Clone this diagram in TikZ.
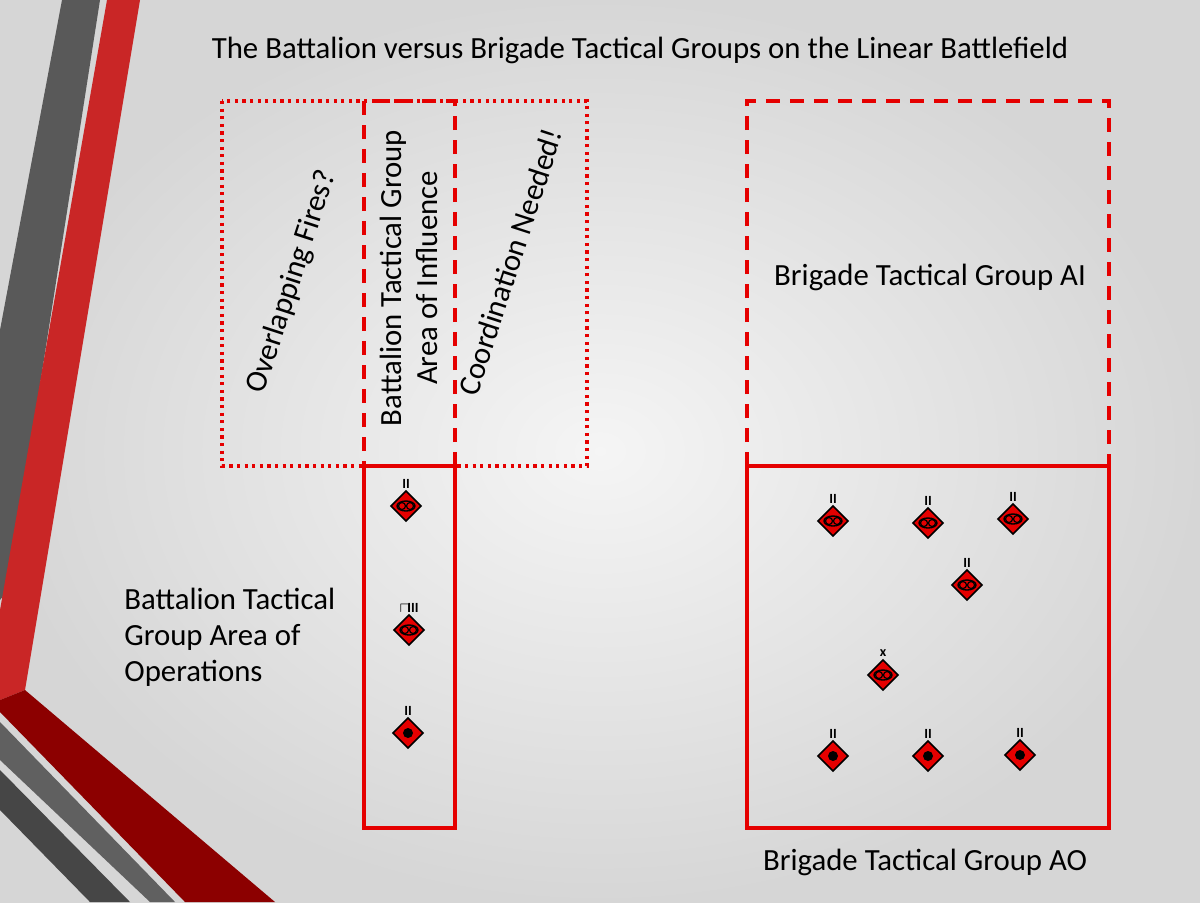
\documentclass[tikz,border=0pt]{standalone}
\usepackage{fontspec}
\setmainfont{Carlito}
\begin{document}
\begin{tikzpicture}[x=0.5pt,y=-0.5pt,
  lbl/.style={font=\fontsize{15.4}{18}\selectfont,inner sep=0},
  rbox/.style={draw=red!90!black,line width=1.6pt},
  dsh/.style={dash pattern=on 7pt off 5pt},
  dot/.style={dash pattern=on 1.6pt off 2.2pt},
  dia/.style={draw=black,fill=red!90!black,line width=0.8pt},
  ech/.style={font=\fontsize{7}{7}\selectfont\bfseries,inner sep=0}]
\useasboundingbox (0,0) rectangle (1200,902);
\shade[inner color=gray!8,outer color=gray!32] (0,0) rectangle (1200,902);
% stripes
\fill[gray!70!black] (62,0)--(100,0)--(8,590)--(0,600)--(0,330)--cycle;
\fill[red!75!black!85!white] (107,0)--(140,0)--(25,690)--(0,700)--(0,610)--cycle;
\fill[red!55!black] (0,700)--(25,690)--(275,902)--(185,902)--(0,712)--cycle;
\fill[gray!75!black] (0,722)--(175,902)--(150,902)--(0,760)--cycle;
\fill[gray!55!black] (0,770)--(130,902)--(90,902)--(0,810)--cycle;
% title
\node[lbl] (title) at (640,50) {The Battalion versus Brigade Tactical Groups on the Linear Battlefield};
% battalion boxes
\draw[rbox,dot] (222,101) rectangle (587,466);
\draw[rbox,dsh] (364,101) rectangle (455,466);
\draw[rbox] (364,466) rectangle (455,828);
\node[lbl,rotate=90,align=center] (bai) at (409,278) {Battalion Tactical Group\\Area of Influence};
\node[lbl,rotate=72] (ovl) at (292,282) {Overlapping Fires?};
\node[lbl,rotate=72] (coo) at (510,262) {Coordination Needed!};
\node[lbl,align=left,anchor=north west] (bao) at (124,588) {Battalion Tactical\\Group Area of\\Operations};
% brigade boxes
\draw[rbox,dsh] (747,466)--(747,101)--(1109,101)--(1109,466);
\draw[rbox] (747,466) rectangle (1109,828);
\node[lbl] (brai) at (930,277) {Brigade Tactical Group AI};
\node[lbl] (brao) at (925,862) {Brigade Tactical Group AO};
% symbols
\newcommand{\armr}[3]{%
  \draw[dia] (#1,#2-15)--(#1+15,#2)--(#1,#2+15)--(#1-15,#2)--cycle;
  \draw[line width=0.7pt] (#1,#2) ellipse (9 and 5);
  \draw[line width=0.6pt] (#1-4,#2) circle (3.5) (#1+4,#2) circle (3.5);
  \node[ech] at (#1,#2-22) {#3};}
\newcommand{\fire}[3]{%
  \draw[dia] (#1,#2-15)--(#1+15,#2)--(#1,#2+15)--(#1-15,#2)--cycle;
  \fill (#1,#2) circle (5);
  \node[ech] at (#1,#2-22) {#3};}
\armr{406}{506}{II}
\armr{409}{630}{$\sqcap\!$III}
\fire{408}{733}{II}
\armr{833}{521}{II}
\armr{928}{523}{II}
\armr{1013}{519}{II}
\armr{967}{585}{II}
\armr{883}{675}{x}
\fire{833}{756}{II}
\fire{928}{756}{II}
\fire{1020}{755}{II}
\end{tikzpicture}
\end{document}
